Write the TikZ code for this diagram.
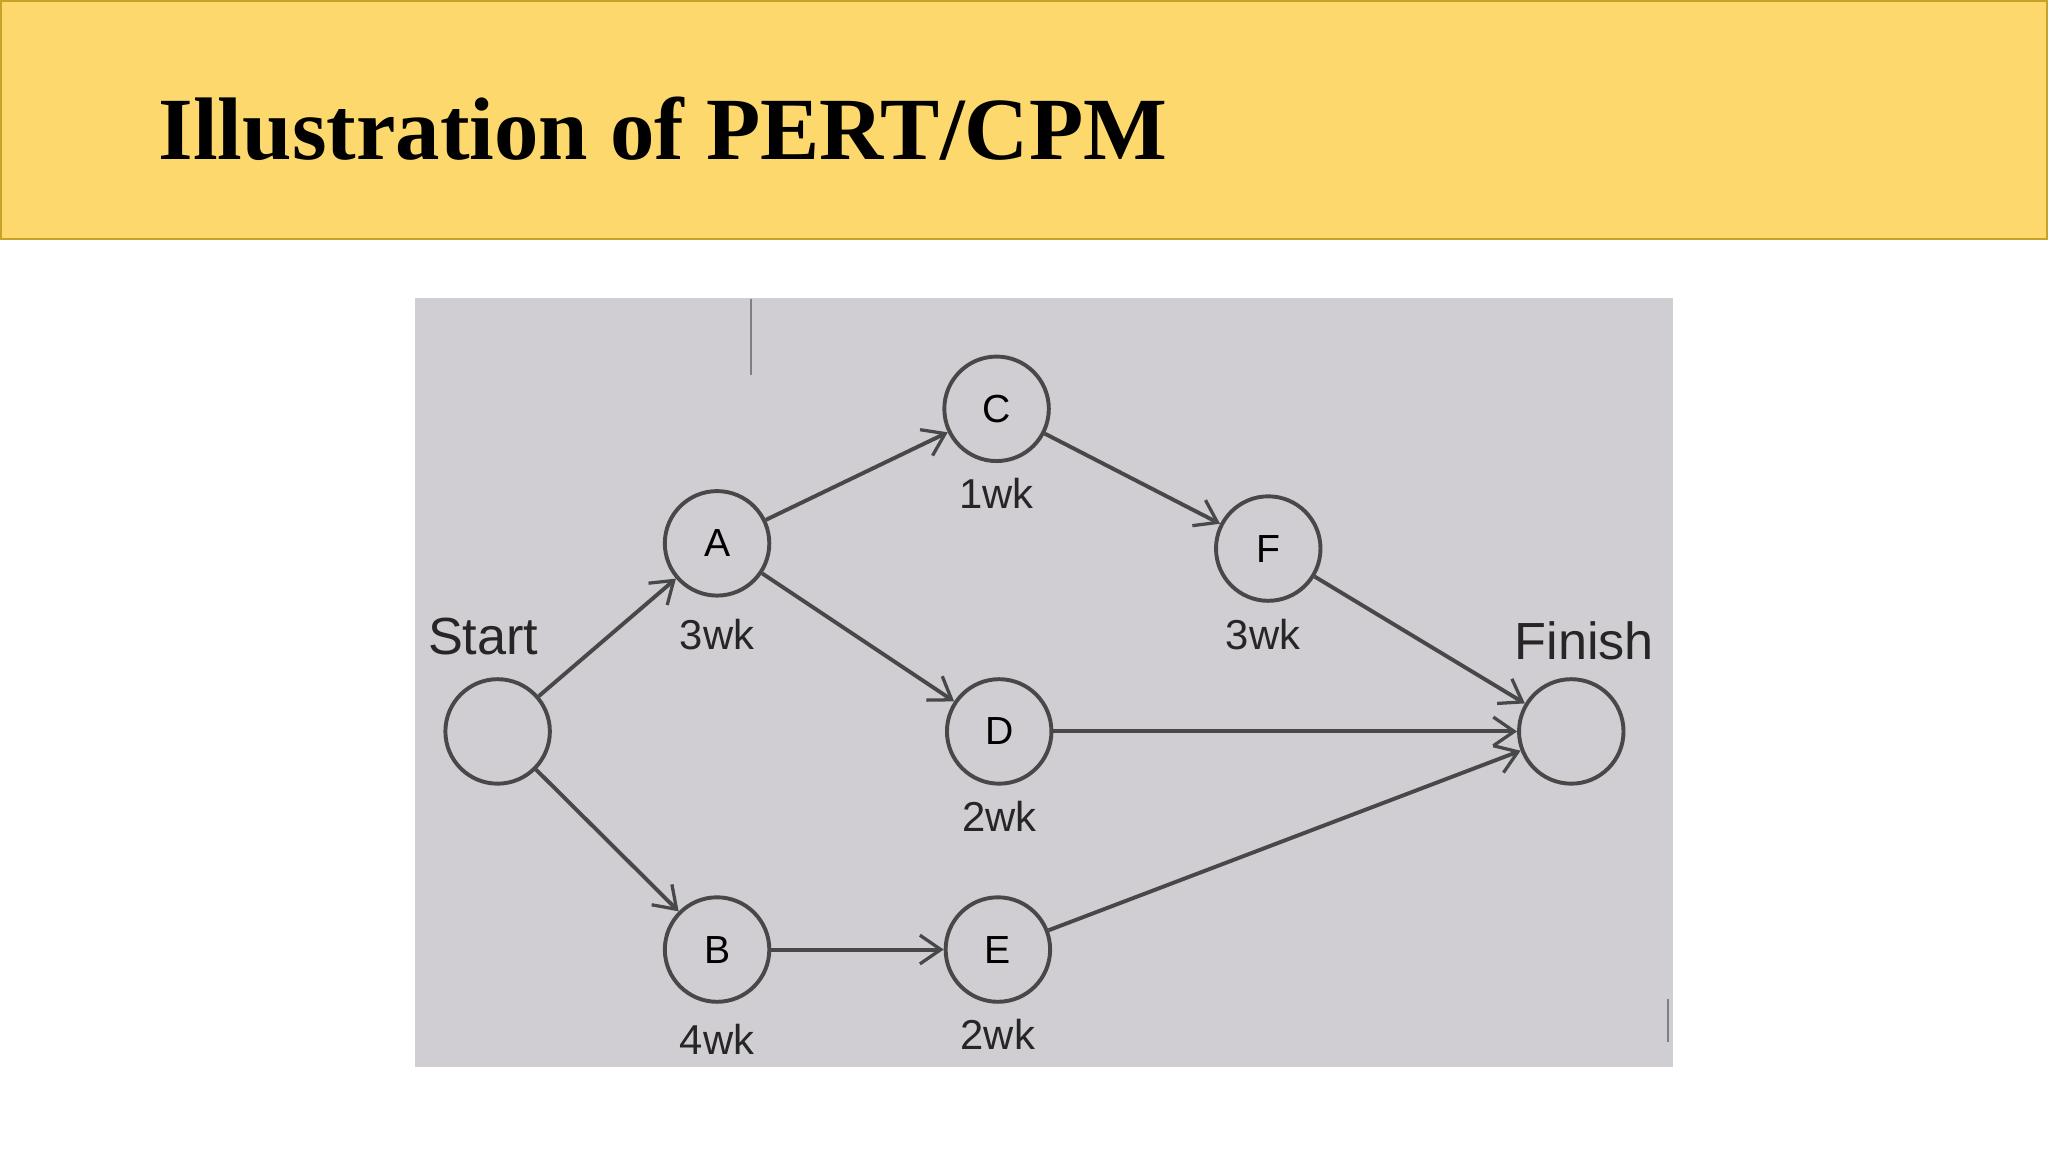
\documentclass[tikz,border=0pt]{standalone}
\usepackage{fontspec}
\setmainfont{Liberation Serif}
\setsansfont{Liberation Sans}
\usetikzlibrary{arrows.meta}
\definecolor{band}{HTML}{FDD86C}
\definecolor{bandline}{HTML}{C9A227}
\definecolor{panel}{HTML}{D0CED2}
\definecolor{ink}{HTML}{484848}
\begin{document}
\begin{tikzpicture}[x=1pt,y=-1pt,
  ev/.style={circle,draw=ink,line width=3pt,fill=panel,minimum size=80pt,inner sep=0pt,font=\sffamily\fontsize{30}{30}\selectfont},
  lbl/.style={font=\sffamily\fontsize{32}{32}\selectfont,text=black!85},
  big/.style={font=\sffamily\fontsize{40}{40}\selectfont,text=black!85},
  arr/.style={draw=ink,line width=3pt,-{Straight Barb[length=16pt,width=22pt,line width=2.5pt]}}]
\useasboundingbox (0,0) rectangle (1568,882);
\fill[white] (0,0) rectangle (1568,882);
\filldraw[fill=band,draw=bandline,line width=1.5pt] (0.75,0.75) rectangle (1567.25,183);
\node[anchor=base west,font=\bfseries\fontsize{68}{68}\selectfont] (title) at (118,122) {Illustration of PERT/CPM};
\fill[panel] (318,228) rectangle (1281,817);
\draw[ink!70,line width=2pt] (575,229) -- (575,287);
\draw[ink!70,line width=2pt] (1277,765) -- (1277,798);
\node[ev] (S) at (381,560) {};
\node[ev] (A) at (549,416) {A};
\node[ev] (C) at (763,313) {C};
\node[ev] (F) at (971,420) {F};
\node[ev] (D) at (765,560) {D};
\node[ev] (B) at (549,727) {B};
\node[ev] (E) at (764,727) {E};
\node[ev] (Fi) at (1203,560) {};
\node[big] (ls) at (370,487) {Start};
\node[big] (lf) at (1213,491) {Finish};
\node[lbl] (la) at (549,486) {3wk};
\node[lbl] (lc) at (763,378) {1wk};
\node[lbl] (lF) at (967,486) {3wk};
\node[lbl] (ld) at (765,625) {2wk};
\node[lbl] (lb) at (549,796) {4wk};
\node[lbl] (le) at (764,792) {2wk};
\draw[arr] (S) -- (A);
\draw[arr] (S) -- (B);
\draw[arr] (A) -- (C);
\draw[arr] (A) -- (D);
\draw[arr] (C) -- (F);
\draw[arr] (B) -- (E);
\draw[arr] (F) -- (Fi);
\draw[arr] (D) -- (Fi);
\draw[arr] (E) -- (Fi);
\end{tikzpicture}
\end{document}
